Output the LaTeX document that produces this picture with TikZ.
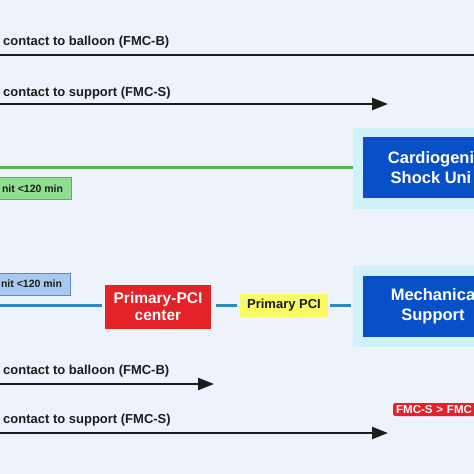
\documentclass[tikz,border=0pt]{standalone}
\usepackage{fontspec}
\setmainfont{Liberation Sans}
\usetikzlibrary{arrows.meta}
\definecolor{bg}{RGB}{238,242,250}
\definecolor{dk}{RGB}{28,28,28}
\definecolor{cyanbox}{RGB}{208,240,250}
\definecolor{bluebox}{RGB}{8,80,200}
\definecolor{redbox}{RGB}{228,34,40}
\definecolor{yelbox}{RGB}{250,250,100}
\definecolor{grline}{RGB}{88,178,88}
\definecolor{grfill}{RGB}{142,224,142}
\definecolor{blfill}{RGB}{168,200,240}
\definecolor{bldraw}{RGB}{100,135,195}
\definecolor{teal}{RGB}{46,139,192}
\tikzset{
  lbl/.style={inner sep=0pt, text=dk, font=\fontsize{13}{15}\selectfont\bfseries},
  darkline/.style={draw=dk, line width=2.3pt},
  darkarrow/.style={darkline, -{Triangle[length=16pt,width=12pt]}},
  halo/.style={fill=cyanbox, minimum width=160pt, minimum height=81pt, inner sep=0pt},
  unitbox/.style={fill=bluebox, text=white, align=center, inner sep=0pt,
    font=\fontsize{16.5}{19.5}\selectfont\bfseries, minimum height=61pt},
  tag/.style={inner xsep=8pt, inner ysep=0pt, minimum height=22pt, line width=0.9pt,
    text=dk, font=\fontsize{10.5}{12}\selectfont\bfseries},
  pcibox/.style={fill=redbox, text=white, align=center, minimum width=106pt, minimum height=44pt,
    inner sep=0pt, font=\fontsize{15.5}{16.5}\selectfont\bfseries},
  yelnode/.style={fill=yelbox, text=dk, minimum width=88pt, minimum height=23pt, inner sep=0pt,
    font=\fontsize{13}{15}\selectfont\bfseries},
  warn/.style={fill=redbox, text=white, rounded corners=2pt, inner xsep=3pt, inner ysep=0pt,
    minimum height=13pt, text width=84pt, align=left, font=\fontsize{11.5}{13}\selectfont\bfseries},
  greenl/.style={draw=grline, line width=2.6pt},
  teall/.style={draw=teal, line width=2.2pt, shorten <=3pt, shorten >=3pt}
}
\begin{document}
\begin{tikzpicture}[x=1pt,y=-1pt]
\useasboundingbox (0,0) rectangle (474,474);
\clip (0,0) rectangle (474,474);
\fill[bg] (0,0) rectangle (474,474);

% top texts and arrows
\node[lbl, anchor=base west] (t1) at (3,45.5) {contact to balloon (FMC-B)};
\coordinate (a1s) at (0,55);
\coordinate (a1e) at (480,55);
\draw[darkline] (a1s) -- (a1e);

\node[lbl, anchor=base west] (t2) at (3,96) {contact to support (FMC-S)};
\coordinate (a2s) at (0,104);
\coordinate (a2e) at (388,104);
\draw[darkarrow] (a2s) -- (a2e);

% cardiogenic shock unit
\node[halo] (cu1) at (433,168) {};
\node[unitbox, minimum width=136pt] (csu) at (431,167.5) {Cardiogeni\\Shock Uni};
\coordinate (g0) at (0,167.5);
\draw[greenl] (g0) -- (g0 -| cu1.west);
\node[tag, draw=grline, fill=grfill, anchor=east] (gtag) at (71.5,188.5) {nit <120 min};

% mechanical support row
\node[halo] (cu2) at (433,306) {};
\node[unitbox, minimum width=140pt] (ms) at (433,306) {Mechanica\\Support};
\node[pcibox] (pc) at (158,306.5) {Primary-PCI\\center};
\node[yelnode] (pp) at (284,305.5) {Primary PCI};
\coordinate (b0) at (-3,305.5);
\draw[teall] (b0) -- (b0 -| pc.west);
\draw[teall, shorten <=5pt] (pc.east |- pp.west) -- (pp.west);
\draw[teall, shorten <=2pt, shorten >=2pt] (pp.east) -- (pp.east -| cu2.west);
\node[tag, draw=bldraw, fill=blfill, anchor=east] (btag) at (70.5,284) {nit <120 min};

% bottom texts and arrows
\node[lbl, anchor=base west] (t3) at (3,374) {contact to balloon (FMC-B)};
\coordinate (a3s) at (0,384);
\coordinate (a3e) at (214,384);
\draw[darkarrow] (a3s) -- (a3e);

\node[lbl, anchor=base west] (t4) at (3,423.3) {contact to support (FMC-S)};
\coordinate (a4s) at (0,433);
\coordinate (a4e) at (388,433);
\draw[darkarrow] (a4s) -- (a4e);

\node[warn, anchor=west] (fw) at (393,409.5) {FMC-S > FMC};
\end{tikzpicture}
\end{document}
